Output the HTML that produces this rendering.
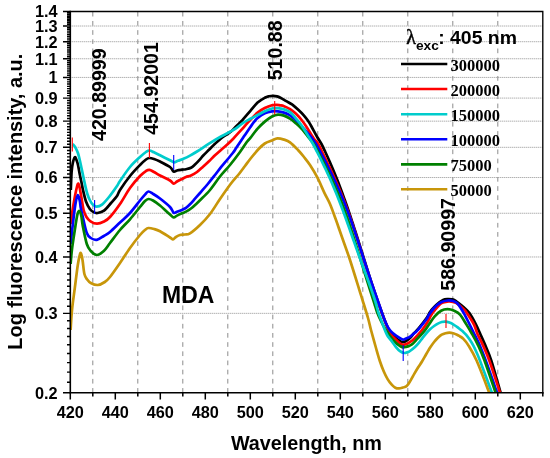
<!DOCTYPE html>
<html lang="en"><head><meta charset="utf-8"><title>Log fluorescence intensity vs wavelength (MDA)</title>
<style>html,body{margin:0;padding:0;background:#fff}body{width:550px;height:458px;overflow:hidden}svg{display:block}text{font-family:"Liberation Sans",Arial,sans-serif;font-weight:bold;fill:#000}.tk{font-size:16.3px}.leg{font-family:"Liberation Serif","Times New Roman",serif;font-size:16.5px;font-weight:bold}.pk{font-size:19.6px}.ttl{font-size:20px}</style></head><body>
<svg width="550" height="458" viewBox="0 0 550 458">
<rect width="550" height="458" fill="#fff"/>
<g stroke="#8c8c8c" stroke-width="1" fill="none">
<line x1="92.80" y1="11.80" x2="92.80" y2="392.80" stroke-dasharray="4.7 4.477"/>
<line x1="137.80" y1="11.80" x2="137.80" y2="392.80" stroke-dasharray="4.7 4.477"/>
<line x1="182.80" y1="11.80" x2="182.80" y2="392.80" stroke-dasharray="4.7 4.477"/>
<line x1="227.80" y1="11.80" x2="227.80" y2="392.80" stroke-dasharray="4.7 4.477"/>
<line x1="272.80" y1="11.80" x2="272.80" y2="392.80" stroke-dasharray="4.7 4.477"/>
<line x1="317.80" y1="11.80" x2="317.80" y2="392.80" stroke-dasharray="4.7 4.477"/>
<line x1="362.80" y1="11.80" x2="362.80" y2="392.80" stroke-dasharray="4.7 4.477"/>
<line x1="407.80" y1="11.80" x2="407.80" y2="392.80" stroke-dasharray="4.7 4.477"/>
<line x1="452.80" y1="11.80" x2="452.80" y2="392.80" stroke-dasharray="4.7 4.477"/>
<line x1="497.80" y1="11.80" x2="497.80" y2="392.80" stroke-dasharray="4.7 4.477"/>
</g>
<g stroke="#909090" stroke-width="1" fill="none" stroke-dasharray="1 1">
<line x1="70.30" y1="313.35" x2="542.80" y2="313.35"/>
<line x1="70.30" y1="256.98" x2="542.80" y2="256.98"/>
<line x1="70.30" y1="213.25" x2="542.80" y2="213.25"/>
<line x1="70.30" y1="177.53" x2="542.80" y2="177.53"/>
<line x1="70.30" y1="147.32" x2="542.80" y2="147.32"/>
<line x1="70.30" y1="121.16" x2="542.80" y2="121.16"/>
<line x1="70.30" y1="98.08" x2="542.80" y2="98.08"/>
<line x1="70.30" y1="77.43" x2="542.80" y2="77.43"/>
<line x1="70.30" y1="58.76" x2="542.80" y2="58.76"/>
<line x1="70.30" y1="41.71" x2="542.80" y2="41.71"/>
<line x1="70.30" y1="26.02" x2="542.80" y2="26.02"/>
</g>
<defs><clipPath id="pc"><rect x="70.10" y="11.50" width="472.70" height="381.60"/></clipPath></defs>
<g clip-path="url(#pc)" fill="none" stroke-width="2.7" stroke-linejoin="round" stroke-linecap="butt">
<path d="M70.80 190.00 C70.93 187.00 71.27 176.50 71.60 172.00 C71.93 167.50 72.27 165.47 72.80 163.00 C73.33 160.53 74.18 157.70 74.80 157.20 C75.42 156.70 75.97 158.70 76.50 160.00 C77.03 161.30 77.45 162.57 78.00 165.00 C78.55 167.43 79.20 171.60 79.80 174.60 C80.40 177.60 81.07 180.43 81.60 183.00 C82.13 185.57 82.27 186.92 83.00 190.00 C83.73 193.08 84.83 198.28 86.00 201.50 C87.17 204.72 88.67 207.48 90.00 209.30 C91.33 211.12 92.75 211.78 94.00 212.40 C95.25 213.02 95.83 213.30 97.50 213.00 C99.17 212.70 101.75 212.27 104.00 210.60 C106.25 208.93 108.83 205.43 111.00 203.00 C113.17 200.57 115.50 198.17 117.00 196.00 C118.50 193.83 117.83 193.33 120.00 190.00 C122.17 186.67 126.67 180.17 130.00 176.00 C133.33 171.83 137.33 167.75 140.00 165.00 C142.67 162.25 144.43 160.67 146.00 159.50 C147.57 158.33 148.07 158.08 149.40 158.00 C150.73 157.92 152.23 158.42 154.00 159.00 C155.77 159.58 157.33 160.17 160.00 161.50 C162.67 162.83 167.72 165.32 170.00 167.00 C172.28 168.68 172.53 171.02 173.70 171.60 C174.87 172.18 175.62 170.82 177.00 170.50 C178.38 170.18 180.50 169.92 182.00 169.70 C183.50 169.48 184.50 169.52 186.00 169.20 C187.50 168.88 189.50 168.58 191.00 167.80 C192.50 167.02 193.50 165.92 195.00 164.50 C196.50 163.08 198.67 160.75 200.00 159.30 C201.33 157.85 201.50 157.38 203.00 155.80 C204.50 154.22 207.00 151.80 209.00 149.80 C211.00 147.80 213.00 145.70 215.00 143.80 C217.00 141.90 219.00 139.97 221.00 138.40 C223.00 136.83 225.33 135.55 227.00 134.40 C228.67 133.25 229.50 132.82 231.00 131.50 C232.50 130.18 234.20 128.30 236.00 126.50 C237.80 124.70 240.60 121.92 241.80 120.70 C243.00 119.48 241.77 120.85 243.20 119.20 C244.63 117.55 248.00 113.57 250.40 110.80 C252.80 108.03 255.20 104.77 257.60 102.60 C260.00 100.43 262.90 98.85 264.80 97.80 C266.70 96.75 267.60 96.63 269.00 96.30 C270.40 95.97 271.87 95.78 273.20 95.80 C274.53 95.82 275.80 96.07 277.00 96.40 C278.20 96.73 278.83 97.00 280.40 97.80 C281.97 98.60 284.47 100.10 286.40 101.20 C288.33 102.30 290.07 103.00 292.00 104.40 C293.93 105.80 296.00 107.73 298.00 109.60 C300.00 111.47 302.33 113.73 304.00 115.60 C305.67 117.47 306.80 119.07 308.00 120.80 C309.20 122.53 309.67 123.30 311.20 126.00 C312.73 128.70 315.49 134.00 317.20 137.00 C318.91 140.00 320.12 141.50 321.47 144.00 C322.83 146.50 324.07 149.33 325.32 152.00 C326.56 154.67 327.77 157.33 328.95 160.00 C330.14 162.67 331.29 165.33 332.41 168.00 C333.54 170.67 334.63 173.33 335.71 176.00 C336.78 178.67 337.83 181.33 338.86 184.00 C339.88 186.67 340.89 189.33 341.87 192.00 C342.86 194.67 343.83 197.33 344.78 200.00 C345.73 202.67 346.66 205.33 347.58 208.00 C348.50 210.67 349.40 213.33 350.30 216.00 C351.19 218.67 352.07 221.33 352.94 224.00 C353.81 226.67 354.67 229.33 355.53 232.00 C356.38 234.67 357.22 237.33 358.07 240.00 C358.91 242.67 359.74 245.33 360.58 248.00 C361.41 250.67 362.24 253.33 363.07 256.00 C363.90 258.67 364.73 261.33 365.57 264.00 C366.40 266.67 367.24 269.33 368.08 272.00 C368.92 274.67 369.77 277.33 370.63 280.00 C371.49 282.67 372.36 285.33 373.25 288.00 C374.13 290.67 375.02 293.33 375.94 296.00 C376.86 298.67 377.79 301.33 378.75 304.00 C379.70 306.67 380.64 309.17 381.69 312.00 C382.73 314.83 384.03 318.50 385.00 321.00 C385.97 323.50 386.58 325.07 387.50 327.00 C388.42 328.93 389.08 330.72 390.50 332.60 C391.92 334.48 394.42 336.90 396.00 338.30 C397.58 339.70 398.83 340.37 400.00 341.00 C401.17 341.63 402.00 342.10 403.00 342.10 C404.00 342.10 404.75 341.77 406.00 341.00 C407.25 340.23 409.17 338.80 410.50 337.50 C411.83 336.20 412.65 334.72 414.00 333.20 C415.35 331.68 416.47 330.97 418.60 328.40 C420.73 325.83 424.90 320.53 426.80 317.80 C428.70 315.07 428.72 313.83 430.00 312.00 C431.28 310.17 432.98 308.37 434.50 306.80 C436.02 305.23 437.68 303.75 439.10 302.60 C440.52 301.45 441.58 300.47 443.00 299.90 C444.42 299.33 446.10 299.28 447.60 299.20 C449.10 299.12 450.90 299.27 452.00 299.40 C453.10 299.53 453.28 299.53 454.20 300.00 C455.12 300.47 455.87 300.95 457.50 302.20 C459.13 303.45 461.98 305.63 464.00 307.50 C466.02 309.37 467.60 310.55 469.60 313.40 C471.60 316.25 474.23 321.20 476.00 324.60 C477.77 328.00 478.67 330.38 480.20 333.80 C481.73 337.22 483.33 340.60 485.20 345.10 C487.07 349.60 488.83 352.85 491.40 360.80 C493.97 368.75 499.07 387.47 500.60 392.80" stroke="#000000"/>
<path d="M70.80 224.00 C71.10 221.67 71.77 215.33 72.60 210.00 C73.43 204.67 74.83 196.40 75.80 192.00 C76.77 187.60 77.57 183.27 78.40 183.60 C79.23 183.93 79.93 189.60 80.80 194.00 C81.67 198.40 82.65 206.17 83.60 210.00 C84.55 213.83 85.35 215.12 86.50 217.00 C87.65 218.88 88.75 220.18 90.50 221.30 C92.25 222.42 94.75 223.67 97.00 223.70 C99.25 223.73 101.83 222.62 104.00 221.50 C106.17 220.38 107.33 219.92 110.00 217.00 C112.67 214.08 116.67 208.83 120.00 204.00 C123.33 199.17 126.67 192.67 130.00 188.00 C133.33 183.33 137.33 178.83 140.00 176.00 C142.67 173.17 144.43 172.03 146.00 171.00 C147.57 169.97 148.07 169.63 149.40 169.80 C150.73 169.97 152.23 171.05 154.00 172.00 C155.77 172.95 157.33 174.08 160.00 175.50 C162.67 176.92 167.72 179.13 170.00 180.50 C172.28 181.87 172.53 183.53 173.70 183.70 C174.87 183.87 175.62 182.28 177.00 181.50 C178.38 180.72 180.50 179.75 182.00 179.00 C183.50 178.25 184.50 177.58 186.00 177.00 C187.50 176.42 189.17 176.33 191.00 175.50 C192.83 174.67 195.00 173.47 197.00 172.00 C199.00 170.53 201.00 168.50 203.00 166.70 C205.00 164.90 207.00 163.10 209.00 161.20 C211.00 159.30 213.00 157.18 215.00 155.30 C217.00 153.42 219.00 151.65 221.00 149.90 C223.00 148.15 225.00 146.62 227.00 144.80 C229.00 142.98 231.50 140.53 233.00 139.00 C234.50 137.47 234.53 137.20 236.00 135.60 C237.47 134.00 240.60 130.70 241.80 129.40 C243.00 128.10 241.77 129.40 243.20 127.80 C244.63 126.20 248.00 122.33 250.40 119.80 C252.80 117.27 255.20 114.57 257.60 112.60 C260.00 110.63 262.40 109.23 264.80 108.00 C267.20 106.77 270.00 105.73 272.00 105.20 C274.00 104.67 275.47 104.78 276.80 104.80 C278.13 104.82 278.80 105.07 280.00 105.30 C281.20 105.53 282.33 105.55 284.00 106.20 C285.67 106.85 288.00 107.93 290.00 109.20 C292.00 110.47 294.00 111.92 296.00 113.80 C298.00 115.68 300.27 118.33 302.00 120.50 C303.73 122.67 304.47 123.85 306.40 126.80 C308.33 129.75 311.62 135.33 313.60 138.20 C315.58 141.07 316.83 141.70 318.25 144.00 C319.68 146.30 320.86 149.33 322.16 152.00 C323.47 154.67 324.78 157.33 326.08 160.00 C327.37 162.67 328.66 165.33 329.92 168.00 C331.18 170.67 332.43 173.33 333.65 176.00 C334.86 178.67 336.05 181.33 337.21 184.00 C338.37 186.67 339.50 189.33 340.60 192.00 C341.70 194.67 342.77 197.33 343.81 200.00 C344.85 202.67 345.86 205.33 346.84 208.00 C347.83 210.67 348.78 213.33 349.71 216.00 C350.65 218.67 351.56 221.33 352.45 224.00 C353.34 226.67 354.21 229.33 355.08 232.00 C355.94 234.67 356.78 237.33 357.63 240.00 C358.47 242.67 359.30 245.33 360.14 248.00 C360.98 250.67 361.80 253.33 362.64 256.00 C363.48 258.67 364.32 261.33 365.16 264.00 C366.01 266.67 366.87 269.33 367.73 272.00 C368.60 274.67 369.48 277.33 370.36 280.00 C371.25 282.67 372.16 285.33 373.07 288.00 C373.98 290.67 374.91 293.33 375.84 296.00 C376.77 298.67 377.72 301.33 378.66 304.00 C379.61 306.67 380.45 309.12 381.50 312.00 C382.56 314.88 383.98 318.72 385.00 321.30 C386.02 323.88 386.68 325.38 387.60 327.50 C388.52 329.62 389.10 331.97 390.50 334.00 C391.90 336.03 394.42 338.15 396.00 339.70 C397.58 341.25 398.83 342.43 400.00 343.30 C401.17 344.17 402.00 344.75 403.00 344.90 C404.00 345.05 404.92 344.62 406.00 344.20 C407.08 343.78 408.17 343.27 409.50 342.40 C410.83 341.53 412.02 340.93 414.00 339.00 C415.98 337.07 419.27 333.43 421.40 330.80 C423.53 328.17 425.17 325.83 426.80 323.20 C428.43 320.57 429.92 317.10 431.20 315.00 C432.48 312.90 432.87 312.52 434.50 310.60 C436.13 308.68 438.92 305.00 441.00 303.50 C443.08 302.00 445.57 301.95 447.00 301.60 C448.43 301.25 448.60 301.33 449.60 301.40 C450.60 301.47 451.68 301.60 453.00 302.00 C454.32 302.40 455.67 302.57 457.50 303.80 C459.33 305.03 462.40 307.80 464.00 309.40 C465.60 311.00 465.43 310.87 467.10 313.40 C468.77 315.93 472.28 321.20 474.00 324.60 C475.72 328.00 475.92 330.38 477.40 333.80 C478.88 337.22 480.90 340.60 482.90 345.10 C484.90 349.60 486.53 352.85 489.40 360.80 C492.27 368.75 498.32 387.47 500.10 392.80" stroke="#ff0000"/>
<path d="M70.60 244.00 C71.13 239.33 72.93 223.00 73.80 216.00 C74.67 209.00 75.13 205.50 75.80 202.00 C76.47 198.50 77.13 195.17 77.80 195.00 C78.47 194.83 79.30 198.83 79.80 201.00 C80.30 203.17 80.30 205.33 80.80 208.00 C81.30 210.67 81.80 212.83 82.80 217.00 C83.80 221.17 85.47 229.50 86.80 233.00 C88.13 236.50 89.13 236.87 90.80 238.00 C92.47 239.13 94.63 240.13 96.80 239.80 C98.97 239.47 101.60 237.30 103.80 236.00 C106.00 234.70 107.30 234.25 110.00 232.00 C112.70 229.75 116.67 225.67 120.00 222.50 C123.33 219.33 126.67 216.67 130.00 213.00 C133.33 209.33 137.50 203.57 140.00 200.50 C142.50 197.43 143.60 196.10 145.00 194.60 C146.40 193.10 147.07 191.63 148.40 191.50 C149.73 191.37 151.07 192.63 153.00 193.80 C154.93 194.97 157.17 196.30 160.00 198.50 C162.83 200.70 167.72 204.62 170.00 207.00 C172.28 209.38 172.53 212.00 173.70 212.80 C174.87 213.60 175.62 212.28 177.00 211.80 C178.38 211.32 180.50 210.57 182.00 209.90 C183.50 209.23 184.67 208.73 186.00 207.80 C187.33 206.87 188.50 205.82 190.00 204.30 C191.50 202.78 193.33 200.58 195.00 198.70 C196.67 196.82 197.87 195.45 200.00 193.00 C202.13 190.55 205.30 187.00 207.80 184.00 C210.30 181.00 212.80 177.80 215.00 175.00 C217.20 172.20 219.00 169.70 221.00 167.20 C223.00 164.70 225.00 162.40 227.00 160.00 C229.00 157.60 231.50 154.75 233.00 152.80 C234.50 150.85 235.00 149.80 236.00 148.30 C237.00 146.80 237.80 145.58 239.00 143.80 C240.20 142.02 242.03 139.33 243.20 137.60 C244.37 135.87 244.80 135.17 246.00 133.40 C247.20 131.63 249.07 128.90 250.40 127.00 C251.73 125.10 252.80 123.50 254.00 122.00 C255.20 120.50 255.80 119.47 257.60 118.00 C259.40 116.53 262.40 114.32 264.80 113.20 C267.20 112.08 269.80 111.62 272.00 111.30 C274.20 110.98 276.00 111.08 278.00 111.30 C280.00 111.52 282.20 112.05 284.00 112.60 C285.80 113.15 287.13 113.62 288.80 114.60 C290.47 115.58 292.30 117.02 294.00 118.50 C295.70 119.98 297.33 121.75 299.00 123.50 C300.67 125.25 301.93 126.67 304.00 129.00 C306.07 131.33 309.40 135.00 311.40 137.50 C313.40 140.00 314.53 141.58 316.01 144.00 C317.49 146.42 318.87 149.33 320.29 152.00 C321.71 154.67 323.12 157.33 324.51 160.00 C325.90 162.67 327.27 165.33 328.61 168.00 C329.95 170.67 331.27 173.33 332.55 176.00 C333.84 178.67 335.09 181.33 336.30 184.00 C337.52 186.67 338.70 189.33 339.85 192.00 C341.00 194.67 342.12 197.33 343.20 200.00 C344.28 202.67 345.33 205.33 346.36 208.00 C347.38 210.67 348.37 213.33 349.34 216.00 C350.32 218.67 351.26 221.33 352.19 224.00 C353.12 226.67 354.02 229.33 354.92 232.00 C355.81 234.67 356.69 237.33 357.57 240.00 C358.44 242.67 359.30 245.33 360.17 248.00 C361.03 250.67 361.89 253.33 362.75 256.00 C363.61 258.67 364.48 261.33 365.35 264.00 C366.22 266.67 367.09 269.33 367.98 272.00 C368.86 274.67 369.75 277.33 370.65 280.00 C371.55 282.67 372.46 285.33 373.38 288.00 C374.29 290.67 375.22 293.33 376.14 296.00 C377.07 298.67 378.00 301.33 378.93 304.00 C379.85 306.67 380.68 309.17 381.69 312.00 C382.70 314.83 383.95 318.45 385.00 321.00 C386.05 323.55 387.08 325.67 388.00 327.30 C388.92 328.93 389.67 329.82 390.50 330.80 C391.33 331.78 392.08 332.42 393.00 333.20 C393.92 333.98 394.83 334.67 396.00 335.50 C397.17 336.33 398.83 337.50 400.00 338.20 C401.17 338.90 402.00 339.63 403.00 339.70 C404.00 339.77 404.75 339.17 406.00 338.60 C407.25 338.03 409.00 337.30 410.50 336.30 C412.00 335.30 413.65 333.78 415.00 332.60 C416.35 331.42 416.63 331.50 418.60 329.20 C420.57 326.90 425.15 321.08 426.80 318.80 C428.45 316.52 427.22 317.38 428.50 315.50 C429.78 313.62 432.42 309.70 434.50 307.50 C436.58 305.30 438.82 303.47 441.00 302.30 C443.18 301.13 445.60 300.72 447.60 300.50 C449.60 300.28 451.35 300.50 453.00 301.00 C454.65 301.50 455.75 301.57 457.50 303.50 C459.25 305.43 461.47 309.08 463.50 312.60 C465.53 316.12 467.98 321.20 469.70 324.60 C471.42 328.00 472.15 329.58 473.80 333.00 C475.45 336.42 477.60 340.47 479.60 345.10 C481.60 349.73 482.88 352.85 485.80 360.80 C488.72 368.75 495.22 387.47 497.10 392.80" stroke="#0000ff"/>
<path d="M70.60 264.00 C70.83 261.50 71.30 254.67 72.00 249.00 C72.70 243.33 73.92 235.67 74.80 230.00 C75.68 224.33 76.55 218.17 77.30 215.00 C78.05 211.83 78.63 210.83 79.30 211.00 C79.97 211.17 80.72 213.50 81.30 216.00 C81.88 218.50 81.88 221.33 82.80 226.00 C83.72 230.67 85.47 239.83 86.80 244.00 C88.13 248.17 89.13 249.17 90.80 251.00 C92.47 252.83 94.63 255.00 96.80 255.00 C98.97 255.00 101.60 253.00 103.80 251.00 C106.00 249.00 107.30 246.50 110.00 243.00 C112.70 239.50 116.67 233.95 120.00 230.00 C123.33 226.05 126.67 223.13 130.00 219.30 C133.33 215.47 137.50 210.05 140.00 207.00 C142.50 203.95 143.60 202.33 145.00 201.00 C146.40 199.67 147.07 199.08 148.40 199.00 C149.73 198.92 151.07 199.42 153.00 200.50 C154.93 201.58 157.17 203.17 160.00 205.50 C162.83 207.83 167.72 212.52 170.00 214.50 C172.28 216.48 172.53 217.22 173.70 217.40 C174.87 217.58 175.62 216.28 177.00 215.60 C178.38 214.92 180.50 213.97 182.00 213.30 C183.50 212.63 184.50 212.40 186.00 211.60 C187.50 210.80 189.50 209.60 191.00 208.50 C192.50 207.40 193.50 206.37 195.00 205.00 C196.50 203.63 197.50 202.80 200.00 200.30 C202.50 197.80 206.67 193.97 210.00 190.00 C213.33 186.03 216.67 180.67 220.00 176.50 C223.33 172.33 226.67 169.08 230.00 165.00 C233.33 160.92 237.20 155.83 240.00 152.00 C242.80 148.17 245.07 144.37 246.80 142.00 C248.53 139.63 248.60 140.03 250.40 137.80 C252.20 135.57 255.20 131.30 257.60 128.60 C260.00 125.90 262.40 123.62 264.80 121.60 C267.20 119.58 269.80 117.67 272.00 116.50 C274.20 115.33 276.00 114.75 278.00 114.60 C280.00 114.45 282.00 114.93 284.00 115.60 C286.00 116.27 288.00 117.30 290.00 118.60 C292.00 119.90 294.00 121.63 296.00 123.40 C298.00 125.17 299.83 126.77 302.00 129.20 C304.17 131.63 307.03 135.53 309.00 138.00 C310.97 140.47 312.30 141.67 313.81 144.00 C315.31 146.33 316.64 149.33 318.04 152.00 C319.45 154.67 320.85 157.33 322.22 160.00 C323.60 162.67 324.96 165.33 326.28 168.00 C327.61 170.67 328.91 173.33 330.18 176.00 C331.44 178.67 332.68 181.33 333.87 184.00 C335.07 186.67 336.23 189.33 337.36 192.00 C338.48 194.67 339.57 197.33 340.63 200.00 C341.69 202.67 342.71 205.33 343.71 208.00 C344.70 210.67 345.66 213.33 346.60 216.00 C347.54 218.67 348.45 221.33 349.35 224.00 C350.24 226.67 351.11 229.33 351.97 232.00 C352.83 234.67 353.67 237.33 354.51 240.00 C355.34 242.67 356.16 245.33 356.99 248.00 C357.81 250.67 358.63 253.33 359.45 256.00 C360.26 258.67 361.08 261.33 361.90 264.00 C362.73 266.67 363.55 269.33 364.39 272.00 C365.22 274.67 366.06 277.33 366.90 280.00 C367.74 282.67 368.59 285.33 369.44 288.00 C370.29 290.67 371.15 293.33 372.00 296.00 C372.85 298.67 373.71 301.33 374.54 304.00 C375.38 306.67 375.91 309.08 377.02 312.00 C378.13 314.92 379.87 318.75 381.20 321.50 C382.53 324.25 383.45 325.97 385.00 328.50 C386.55 331.03 388.67 334.28 390.50 336.70 C392.33 339.12 394.42 341.45 396.00 343.00 C397.58 344.55 398.83 345.28 400.00 346.00 C401.17 346.72 402.00 347.15 403.00 347.30 C404.00 347.45 404.92 347.17 406.00 346.90 C407.08 346.63 408.33 346.27 409.50 345.70 C410.67 345.13 411.67 344.68 413.00 343.50 C414.33 342.32 415.65 340.62 417.50 338.60 C419.35 336.58 422.10 333.88 424.10 331.40 C426.10 328.92 427.77 326.17 429.50 323.70 C431.23 321.23 432.57 318.75 434.50 316.60 C436.43 314.45 438.92 312.03 441.10 310.80 C443.28 309.57 445.42 309.20 447.60 309.20 C449.78 309.20 452.13 309.90 454.20 310.80 C456.27 311.70 457.95 312.30 460.00 314.60 C462.05 316.90 464.58 321.53 466.50 324.60 C468.42 327.67 469.58 329.58 471.50 333.00 C473.42 336.42 475.82 340.47 478.00 345.10 C480.18 349.73 481.67 352.85 484.60 360.80 C487.53 368.75 493.77 387.47 495.60 392.80" stroke="#008000"/>
<path d="M72.60 144.20 C72.73 144.30 72.90 144.20 73.40 144.80 C73.90 145.40 74.83 146.40 75.60 147.80 C76.37 149.20 77.30 151.13 78.00 153.20 C78.70 155.27 79.20 157.63 79.80 160.20 C80.40 162.77 81.00 165.80 81.60 168.60 C82.20 171.40 82.80 174.20 83.40 177.00 C84.00 179.80 84.57 182.65 85.20 185.40 C85.83 188.15 86.40 190.98 87.20 193.50 C88.00 196.02 89.03 198.62 90.00 200.50 C90.97 202.38 91.92 203.78 93.00 204.80 C94.08 205.82 95.00 206.63 96.50 206.60 C98.00 206.57 99.92 206.20 102.00 204.60 C104.08 203.00 106.50 200.10 109.00 197.00 C111.50 193.90 115.17 188.67 117.00 186.00 C118.83 183.33 117.83 184.17 120.00 181.00 C122.17 177.83 126.67 171.00 130.00 167.00 C133.33 163.00 137.33 159.50 140.00 157.00 C142.67 154.50 144.43 153.08 146.00 152.00 C147.57 150.92 148.07 150.45 149.40 150.50 C150.73 150.55 152.23 151.50 154.00 152.30 C155.77 153.10 157.33 153.97 160.00 155.30 C162.67 156.63 167.67 159.13 170.00 160.30 C172.33 161.47 172.67 162.22 174.00 162.30 C175.33 162.38 176.33 161.42 178.00 160.80 C179.67 160.18 182.00 159.47 184.00 158.60 C186.00 157.73 187.83 156.78 190.00 155.60 C192.17 154.42 193.83 153.48 197.00 151.50 C200.17 149.52 205.00 146.20 209.00 143.70 C213.00 141.20 217.50 138.48 221.00 136.50 C224.50 134.52 227.50 133.15 230.00 131.80 C232.50 130.45 233.80 129.90 236.00 128.40 C238.20 126.90 240.80 124.40 243.20 122.80 C245.60 121.20 248.00 120.10 250.40 118.80 C252.80 117.50 255.20 116.27 257.60 115.00 C260.00 113.73 262.40 112.28 264.80 111.20 C267.20 110.12 269.80 109.00 272.00 108.50 C274.20 108.00 276.00 108.05 278.00 108.20 C280.00 108.35 282.00 108.73 284.00 109.40 C286.00 110.07 288.17 110.88 290.00 112.20 C291.83 113.52 293.07 115.08 295.00 117.30 C296.93 119.52 299.30 122.22 301.60 125.50 C303.90 128.78 306.90 133.92 308.80 137.00 C310.70 140.08 311.64 141.50 313.02 144.00 C314.41 146.50 315.76 149.33 317.12 152.00 C318.47 154.67 319.82 157.33 321.14 160.00 C322.46 162.67 323.76 165.33 325.04 168.00 C326.31 170.67 327.55 173.33 328.77 176.00 C329.98 178.67 331.16 181.33 332.32 184.00 C333.47 186.67 334.59 189.33 335.69 192.00 C336.79 194.67 337.85 197.33 338.89 200.00 C339.94 202.67 340.95 205.33 341.96 208.00 C342.96 210.67 343.94 213.33 344.91 216.00 C345.88 218.67 346.83 221.33 347.78 224.00 C348.73 226.67 349.67 229.33 350.61 232.00 C351.55 234.67 352.48 237.33 353.43 240.00 C354.37 242.67 355.31 245.33 356.26 248.00 C357.21 250.67 358.17 253.33 359.13 256.00 C360.09 258.67 361.06 261.33 362.04 264.00 C363.01 266.67 363.99 269.33 364.97 272.00 C365.95 274.67 366.94 277.33 367.91 280.00 C368.88 282.67 369.85 285.33 370.79 288.00 C371.73 290.67 372.67 293.33 373.55 296.00 C374.43 298.67 375.30 301.33 376.08 304.00 C376.87 306.67 377.35 309.18 378.25 312.00 C379.16 314.82 380.53 318.23 381.50 320.90 C382.47 323.57 383.17 325.65 384.10 328.00 C385.03 330.35 386.03 333.07 387.10 335.00 C388.17 336.93 389.02 337.58 390.50 339.60 C391.98 341.62 394.42 345.17 396.00 347.10 C397.58 349.03 398.67 350.22 400.00 351.20 C401.33 352.18 402.67 352.87 404.00 353.00 C405.33 353.13 407.00 352.33 408.00 352.00 C409.00 351.67 408.83 351.83 410.00 351.00 C411.17 350.17 413.53 348.35 415.00 347.00 C416.47 345.65 417.53 344.43 418.80 342.90 C420.07 341.37 421.32 339.45 422.60 337.80 C423.88 336.15 425.22 334.47 426.50 333.00 C427.78 331.53 429.03 330.17 430.30 329.00 C431.57 327.83 432.83 326.90 434.10 326.00 C435.37 325.10 436.63 324.27 437.90 323.60 C439.17 322.93 440.43 322.33 441.70 322.00 C442.97 321.67 444.22 321.50 445.50 321.60 C446.78 321.70 448.12 322.15 449.40 322.60 C450.68 323.05 451.93 323.58 453.20 324.30 C454.47 325.02 455.87 326.08 457.00 326.90 C458.13 327.72 459.00 328.42 460.00 329.20 C461.00 329.98 462.00 330.70 463.00 331.60 C464.00 332.50 464.92 333.32 466.00 334.60 C467.08 335.88 468.32 337.55 469.50 339.30 C470.68 341.05 471.93 342.93 473.10 345.10 C474.27 347.27 475.35 349.68 476.50 352.30 C477.65 354.92 477.43 354.05 480.00 360.80 C482.57 367.55 489.92 387.47 491.90 392.80" stroke="#00cccc"/>
<path d="M70.60 330.00 C70.83 326.67 71.30 317.00 72.00 310.00 C72.70 303.00 73.83 295.50 74.80 288.00 C75.77 280.50 76.97 270.50 77.80 265.00 C78.63 259.50 79.30 257.00 79.80 255.00 C80.30 253.00 80.47 252.83 80.80 253.00 C81.13 253.17 81.47 254.50 81.80 256.00 C82.13 257.50 82.37 259.00 82.80 262.00 C83.23 265.00 83.70 271.12 84.40 274.00 C85.10 276.88 85.93 277.80 87.00 279.30 C88.07 280.80 89.00 282.05 90.80 283.00 C92.60 283.95 95.47 285.17 97.80 285.00 C100.13 284.83 102.77 283.33 104.80 282.00 C106.83 280.67 107.47 280.17 110.00 277.00 C112.53 273.83 116.67 267.83 120.00 263.00 C123.33 258.17 126.67 252.67 130.00 248.00 C133.33 243.33 137.50 238.00 140.00 235.00 C142.50 232.00 143.60 231.17 145.00 230.00 C146.40 228.83 146.90 228.17 148.40 228.00 C149.90 227.83 152.07 228.45 154.00 229.00 C155.93 229.55 157.33 229.88 160.00 231.30 C162.67 232.72 167.83 236.15 170.00 237.50 C172.17 238.85 172.00 239.48 173.00 239.40 C174.00 239.32 174.83 237.73 176.00 237.00 C177.17 236.27 178.50 235.42 180.00 235.00 C181.50 234.58 183.33 234.78 185.00 234.50 C186.67 234.22 187.50 234.88 190.00 233.30 C192.50 231.72 196.67 228.22 200.00 225.00 C203.33 221.78 206.67 218.33 210.00 214.00 C213.33 209.67 216.57 204.00 220.00 199.00 C223.43 194.00 227.43 188.17 230.60 184.00 C233.77 179.83 236.60 177.00 239.00 174.00 C241.40 171.00 243.00 168.67 245.00 166.00 C247.00 163.33 248.77 160.78 251.00 158.00 C253.23 155.22 256.10 151.72 258.40 149.30 C260.70 146.88 262.53 144.97 264.80 143.50 C267.07 142.03 269.90 141.37 272.00 140.50 C274.10 139.63 275.40 138.45 277.40 138.30 C279.40 138.15 281.90 138.93 284.00 139.60 C286.10 140.27 287.67 140.57 290.00 142.30 C292.33 144.03 295.67 147.55 298.00 150.00 C300.33 152.45 302.00 154.50 304.00 157.00 C306.00 159.50 307.80 161.63 310.00 165.00 C312.20 168.37 314.80 172.57 317.20 177.20 C319.60 181.83 322.27 188.33 324.40 192.80 C326.53 197.27 328.07 199.47 330.00 204.00 C331.93 208.53 334.42 215.67 336.00 220.00 C337.58 224.33 338.33 226.67 339.50 230.00 C340.67 233.33 341.25 235.00 343.00 240.00 C344.75 245.00 347.17 251.33 350.00 260.00 C352.83 268.67 357.92 285.33 360.00 292.00 C362.08 298.67 361.17 295.67 362.50 300.00 C363.83 304.33 366.58 313.00 368.00 318.00 C369.42 323.00 369.67 325.00 371.00 330.00 C372.33 335.00 374.50 342.75 376.00 348.00 C377.50 353.25 378.70 357.58 380.00 361.50 C381.30 365.42 382.53 368.57 383.80 371.50 C385.07 374.43 386.32 376.95 387.60 379.10 C388.88 381.25 390.22 382.97 391.50 384.40 C392.78 385.83 394.03 387.03 395.30 387.70 C396.57 388.37 397.83 388.43 399.10 388.40 C400.37 388.37 401.63 387.88 402.90 387.50 C404.17 387.12 405.43 387.25 406.70 386.10 C407.97 384.95 409.22 382.67 410.50 380.60 C411.78 378.53 413.12 375.92 414.40 373.70 C415.68 371.48 416.93 369.33 418.20 367.30 C419.47 365.27 420.70 363.63 422.00 361.50 C423.30 359.37 424.93 356.35 426.00 354.50 C427.07 352.65 427.68 351.60 428.40 350.40 C429.12 349.20 429.35 348.70 430.30 347.30 C431.25 345.90 432.83 343.58 434.10 342.00 C435.37 340.42 436.63 339.02 437.90 337.80 C439.17 336.58 440.43 335.47 441.70 334.70 C442.97 333.93 444.22 333.55 445.50 333.20 C446.78 332.85 448.12 332.60 449.40 332.60 C450.68 332.60 451.93 332.85 453.20 333.20 C454.47 333.55 455.87 334.15 457.00 334.70 C458.13 335.25 459.05 335.92 460.00 336.50 C460.95 337.08 461.33 336.77 462.70 338.20 C464.07 339.63 465.87 341.33 468.20 345.10 C470.53 348.87 473.18 352.85 476.70 360.80 C480.22 368.75 487.20 387.47 489.30 392.80" stroke="#c8960a"/>
</g>
<g stroke-width="1.1" fill="none">
<line x1="72.30" y1="137.50" x2="72.30" y2="151.60" stroke="#ff0000"/>
<line x1="149.40" y1="143.00" x2="149.40" y2="158.00" stroke="#ff0000"/>
<line x1="274.70" y1="101.00" x2="274.70" y2="114.50" stroke="#ff0000"/>
<line x1="446.00" y1="314.00" x2="446.00" y2="328.00" stroke="#ff0000"/>
<line x1="94.60" y1="200.00" x2="94.60" y2="214.00" stroke="#0000ff"/>
<line x1="173.70" y1="155.00" x2="173.70" y2="170.00" stroke="#0000ff"/>
<line x1="403.20" y1="345.00" x2="403.20" y2="361.00" stroke="#0000ff"/>
</g>
<g stroke="#000" fill="none">
<path d="M70.30 11.50 H542.80 V393.60" stroke-width="1.35"/>
<path d="M70.30 10.75 V392.80 H543.55" stroke-width="1.6"/>
<path d="M70.30 392.80v6.6M92.80 392.80v3.6M115.30 392.80v6.6M137.80 392.80v3.6M160.30 392.80v6.6M182.80 392.80v3.6M205.30 392.80v6.6M227.80 392.80v3.6M250.30 392.80v6.6M272.80 392.80v3.6M295.30 392.80v6.6M317.80 392.80v3.6M340.30 392.80v6.6M362.80 392.80v3.6M385.30 392.80v6.6M407.80 392.80v3.6M430.30 392.80v6.6M452.80 392.80v3.6M475.30 392.80v6.6M497.80 392.80v3.6M520.30 392.80v6.6M542.80 392.80v3.6" stroke-width="1.5"/>
<path d="M70.30 392.80h-7.3M70.30 382.21h-3.3M70.30 372.15h-3.3M70.30 362.59h-3.3M70.30 353.48h-3.3M70.30 344.77h-3.3M70.30 336.43h-3.3M70.30 328.43h-3.3M70.30 320.74h-3.3M70.30 313.35h-7.3M70.30 306.22h-3.3M70.30 299.35h-3.3M70.30 292.70h-3.3M70.30 286.28h-3.3M70.30 280.06h-3.3M70.30 274.03h-3.3M70.30 268.18h-3.3M70.30 262.50h-3.3M70.30 256.98h-7.3M70.30 251.61h-3.3M70.30 246.38h-3.3M70.30 241.29h-3.3M70.30 236.33h-3.3M70.30 231.49h-3.3M70.30 226.77h-3.3M70.30 222.16h-3.3M70.30 217.66h-3.3M70.30 213.25h-7.3M70.30 208.95h-3.3M70.30 204.73h-3.3M70.30 200.61h-3.3M70.30 196.57h-3.3M70.30 192.61h-3.3M70.30 188.73h-3.3M70.30 184.92h-3.3M70.30 181.19h-3.3M70.30 177.53h-7.3M70.30 173.93h-3.3M70.30 170.40h-3.3M70.30 166.93h-3.3M70.30 163.53h-3.3M70.30 160.18h-3.3M70.30 156.88h-3.3M70.30 153.64h-3.3M70.30 150.46h-3.3M70.30 147.32h-7.3M70.30 144.24h-3.3M70.30 141.20h-3.3M70.30 138.21h-3.3M70.30 135.26h-3.3M70.30 132.36h-3.3M70.30 129.50h-3.3M70.30 126.68h-3.3M70.30 123.90h-3.3M70.30 121.16h-7.3M70.30 118.45h-3.3M70.30 115.79h-3.3M70.30 113.16h-3.3M70.30 110.56h-3.3M70.30 108.00h-3.3M70.30 105.47h-3.3M70.30 102.98h-3.3M70.30 100.51h-3.3M70.30 98.08h-7.3M70.30 95.67h-3.3M70.30 93.30h-3.3M70.30 90.95h-3.3M70.30 88.63h-3.3M70.30 86.34h-3.3M70.30 84.07h-3.3M70.30 81.84h-3.3M70.30 79.62h-3.3M70.30 77.43h-7.3M70.30 75.27h-3.3M70.30 73.12h-3.3M70.30 71.01h-3.3M70.30 68.91h-3.3M70.30 66.84h-3.3M70.30 64.79h-3.3M70.30 62.75h-3.3M70.30 60.74h-3.3M70.30 58.76h-7.3M70.30 56.79h-3.3M70.30 54.84h-3.3M70.30 52.91h-3.3M70.30 50.99h-3.3M70.30 49.10h-3.3M70.30 47.23h-3.3M70.30 45.37h-3.3M70.30 43.53h-3.3M70.30 41.71h-7.3M70.30 39.90h-3.3M70.30 38.11h-3.3M70.30 36.34h-3.3M70.30 34.58h-3.3M70.30 32.84h-3.3M70.30 31.11h-3.3M70.30 29.40h-3.3M70.30 27.70h-3.3M70.30 26.02h-7.3M70.30 24.35h-3.3M70.30 22.70h-3.3M70.30 21.06h-3.3M70.30 19.43h-3.3M70.30 17.82h-3.3M70.30 16.22h-3.3M70.30 14.64h-3.3M70.30 13.06h-3.3M70.30 11.50h-7.3" stroke-width="1.4"/>
</g>
<g class="tk" text-anchor="middle">
<text x="70.30" y="418.3">420</text>
<text x="115.30" y="418.3">440</text>
<text x="160.30" y="418.3">460</text>
<text x="205.30" y="418.3">480</text>
<text x="250.30" y="418.3">500</text>
<text x="295.30" y="418.3">520</text>
<text x="340.30" y="418.3">540</text>
<text x="385.30" y="418.3">560</text>
<text x="430.30" y="418.3">580</text>
<text x="475.30" y="418.3">600</text>
<text x="520.30" y="418.3">620</text>
</g>
<g class="tk" text-anchor="end">
<text x="57.6" y="398.70">0.2</text>
<text x="57.6" y="319.25">0.3</text>
<text x="57.6" y="262.88">0.4</text>
<text x="57.6" y="219.15">0.5</text>
<text x="57.6" y="183.43">0.6</text>
<text x="57.6" y="153.22">0.7</text>
<text x="57.6" y="127.06">0.8</text>
<text x="57.6" y="103.98">0.9</text>
<text x="57.6" y="83.33">1</text>
<text x="57.6" y="64.66">1.1</text>
<text x="57.6" y="47.61">1.2</text>
<text x="57.6" y="31.92">1.3</text>
<text x="57.6" y="17.40">1.4</text>
</g>
<text class="ttl" text-anchor="middle" transform="translate(306.4 449.8) scale(0.99 1)">Wavelength, nm</text>
<text class="ttl" text-anchor="middle" transform="translate(22 201.75) rotate(-90) scale(0.995 1)">Log fluorescence intensity, a.u.</text>
<text class="pk" transform="translate(106.00 141.00) rotate(-90)">420.89999</text>
<text class="pk" transform="translate(158.30 134.80) rotate(-90)">454.92001</text>
<text class="pk" transform="translate(282.40 80.30) rotate(-90)">510.88</text>
<text class="pk" transform="translate(454.80 290.70) rotate(-90)">586.90997</text>
<text transform="translate(162 302.5) scale(0.99 1)" style="font-size:23.2px">MDA</text>
<text x="406.3" y="43.8" style="font-family:'Liberation Serif',serif;font-weight:normal;font-size:20px;stroke:#000;stroke-width:0.45px">λ</text>
<text transform="translate(415.9 50) scale(1.1 1)" style="font-size:12.5px">exc</text>
<text text-anchor="end" transform="translate(517.0 43.8) scale(1.068 1)" style="font-size:18.2px">: 405 nm</text>
<g stroke-width="2.6" fill="none">
<line x1="401" y1="64.00" x2="447.3" y2="64.00" stroke="#000000"/>
<line x1="401" y1="89.00" x2="447.3" y2="89.00" stroke="#ff0000"/>
<line x1="401" y1="114.20" x2="447.3" y2="114.20" stroke="#00cccc"/>
<line x1="401" y1="139.30" x2="447.3" y2="139.30" stroke="#0000ff"/>
<line x1="401" y1="164.40" x2="447.3" y2="164.40" stroke="#008000"/>
<line x1="401" y1="189.20" x2="447.3" y2="189.20" stroke="#c8960a"/>
</g>
<g class="leg">
<text class="leg" x="450.6" y="71.00">300000</text>
<text class="leg" x="450.6" y="96.00">200000</text>
<text class="leg" x="450.6" y="121.20">150000</text>
<text class="leg" x="450.6" y="146.30">100000</text>
<text class="leg" x="450.6" y="171.40">75000</text>
<text class="leg" x="450.6" y="196.20">50000</text>
</g>
</svg></body></html>
